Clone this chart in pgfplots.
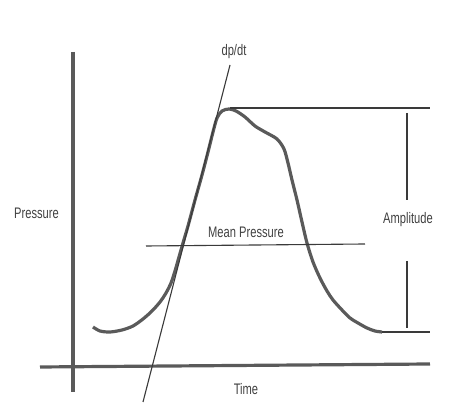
\documentclass[border=0pt]{standalone}
\usepackage{fontspec}
\setmainfont{Liberation Sans}[FakeStretch=0.73]
\usepackage{pgfplots}
\pgfplotsset{compat=1.18}
\definecolor{thick}{HTML}{5A5A5A}
\definecolor{thin}{HTML}{3A3A3A}
\definecolor{txt}{HTML}{404040}
\begin{document}
\begin{tikzpicture}
\begin{axis}[
  scale only axis, width=12cm, height=10.177cm,
  xmin=0, xmax=474, ymin=0, ymax=402, y dir=reverse,
  hide axis, clip=false,
]
\draw[draw=none] (rel axis cs:0,0) rectangle (rel axis cs:1,1);
% axes
\addplot[line width=2.3pt, color=thick] coordinates {(73,52) (73,392)};
\addplot[line width=2.3pt, color=thick] coordinates {(40,367) (430,364)};
% pressure curve
\addplot[line width=2.3pt, color=thick, smooth, tension=0.5] coordinates {
(93,327) (100,331) (110,332) (122,330) (133,326) (143,319) (152,311) (160,302)
(166,293) (171,283) (175,271) (179,257) (183,243) (188,226) (195,200) (202,175) (208,152)
(213,132) (217,118) (222,111) (229,109) (236,111) (245,117) (255,126) (265,132)
(277,139) (284,149) (288,163) (292,180) (297,200) (302,222) (307,243) (313,262)
(320,278) (327,291) (333,300) (342,310) (350,318) (358,323) (367,328) (375,331) (382,332)};
% tangent dp/dt
\addplot[line width=0.8pt, color=thin] coordinates {(230,65) (143,402)};
% peak line
\addplot[line width=0.9pt, color=thin] coordinates {(230,108) (430,108)};
% baseline
\addplot[line width=0.9pt, color=thin] coordinates {(382,332) (430,332)};
% mean pressure
\addplot[line width=0.8pt, color=thin] coordinates {(146,246) (365,244)};
% amplitude
\addplot[line width=0.8pt, color=thin] coordinates {(407,113) (407,200)};
\addplot[line width=0.8pt, color=thin] coordinates {(407,261) (407,328)};
% labels
\tikzset{lbl/.style={font=\fontsize{11}{13}\selectfont, text=txt, inner sep=0pt}}
\node[lbl] at (axis cs:36.5,213) {Pressure};
\node[lbl] at (axis cs:246,389) {Time};
\node[lbl] at (axis cs:246,232) {Mean Pressure};
\node[lbl] at (axis cs:408,220) {Amplitude};
\node[lbl] at (axis cs:234,52) {dp/dt};
\end{axis}
\end{tikzpicture}
\end{document}
